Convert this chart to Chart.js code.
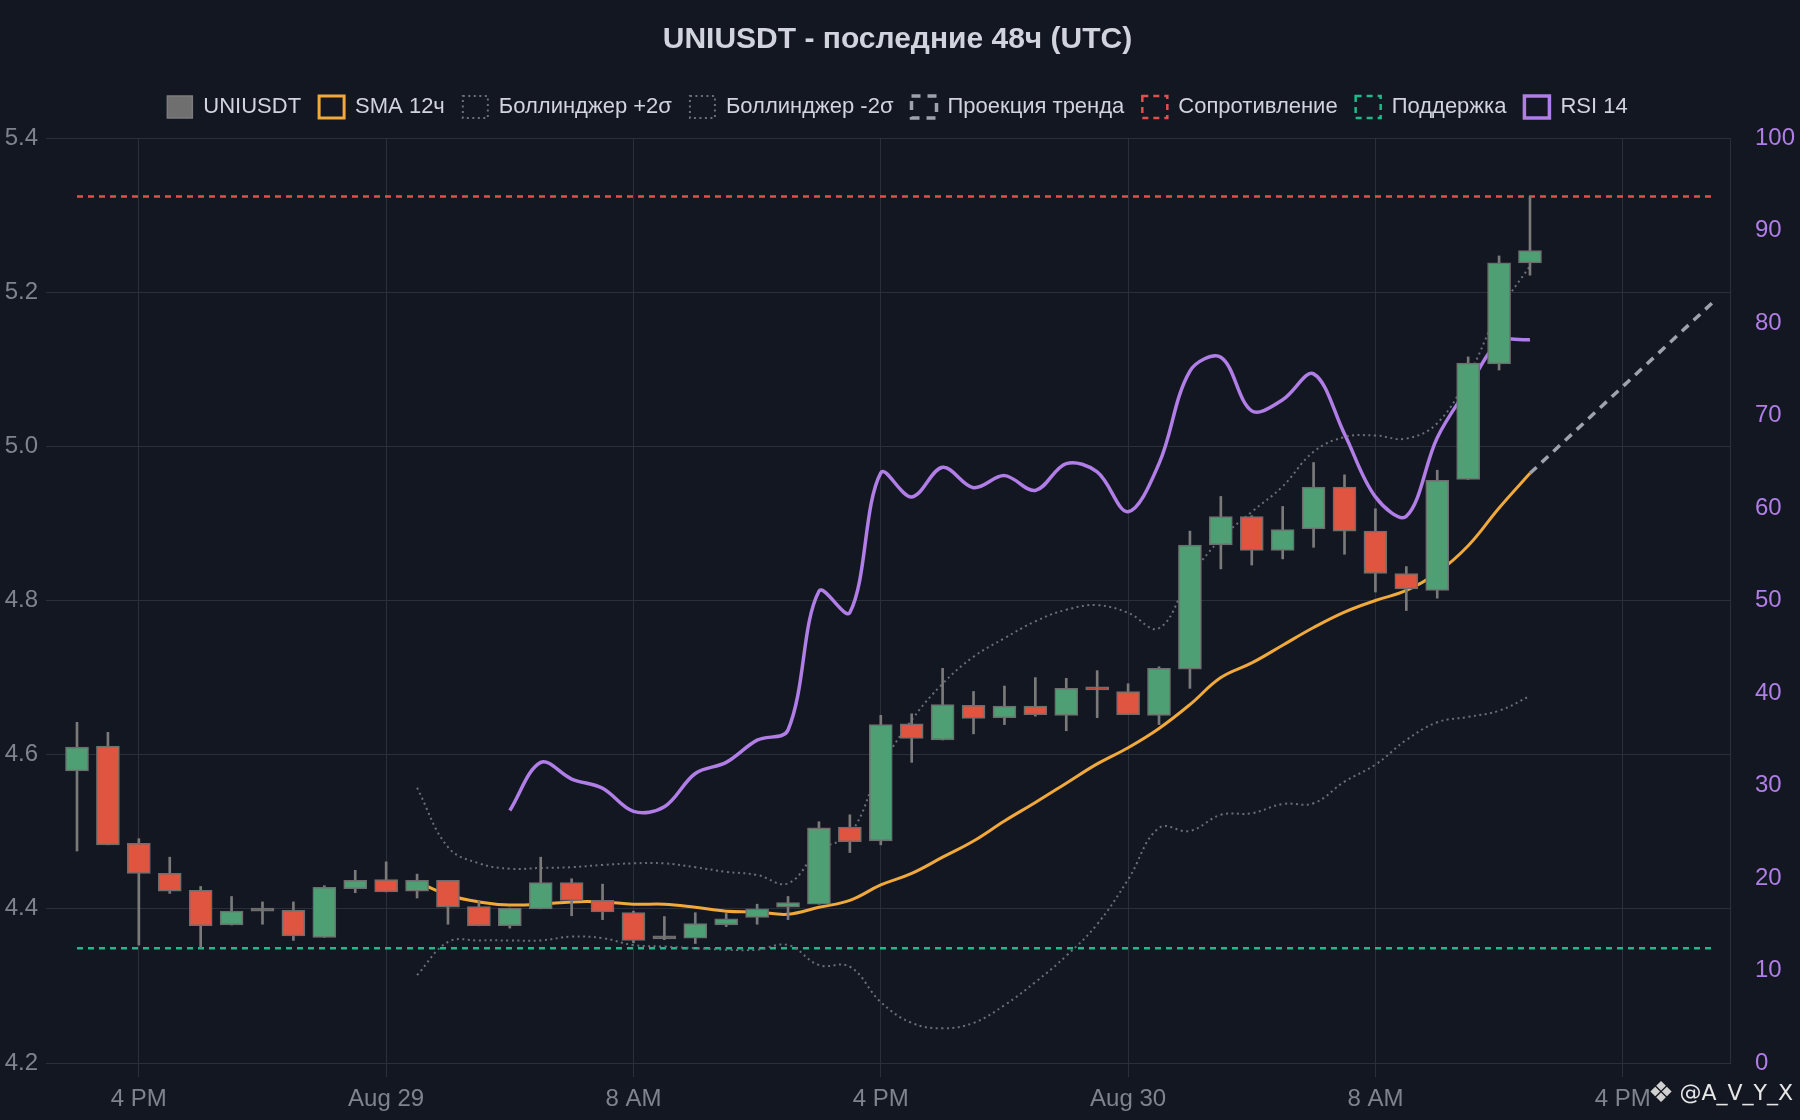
<!DOCTYPE html>
<html>
<head>
<meta charset="utf-8">
<title>UNIUSDT 48h</title>
<script src="https://cdn.jsdelivr.net/npm/chart.js@4.4.1/dist/chart.umd.min.js"></script>
<style>
  html, body { margin: 0; padding: 0; background: #131722; }
  #wrap { width: 1800px; height: 1120px; position: relative; }
</style>
</head>
<body>
<div id="wrap"><canvas id="chart"></canvas></div>
<script>
// hourly candles, x = hours since 28 Aug 00:00 UTC
const candleHours = [14, 15, 16, 17, 18, 19, 20, 21, 22, 23, 24, 25, 26, 27, 28, 29, 30, 31, 32, 33, 34, 35, 36, 37,
                     38, 39, 40, 41, 42, 43, 44, 45, 46, 47, 48, 49, 50, 51, 52, 53, 54, 55, 56, 57, 58, 59, 60, 61];

const openPrices = [4.579, 4.611, 4.485, 4.446, 4.424, 4.379, 4.397, 4.398, 4.363, 4.426, 4.438, 4.423,
                    4.437, 4.403, 4.378, 4.400, 4.434, 4.411, 4.395, 4.361, 4.362, 4.379, 4.389, 4.402,
                    4.406, 4.506, 4.488, 4.640, 4.619, 4.664, 4.648, 4.663, 4.651, 4.687, 4.682, 4.651,
                    4.711, 4.872, 4.909, 4.865, 4.893, 4.947, 4.890, 4.835, 4.813, 4.957, 5.107, 5.238];
const highPrices = [4.642, 4.629, 4.491, 4.467, 4.429, 4.416, 4.409, 4.409, 4.430, 4.450, 4.461, 4.445,
                    4.437, 4.411, 4.401, 4.467, 4.439, 4.432, 4.397, 4.390, 4.395, 4.394, 4.406, 4.416,
                    4.513, 4.522, 4.651, 4.653, 4.712, 4.682, 4.689, 4.700, 4.699, 4.709, 4.692, 4.714,
                    4.890, 4.935, 4.910, 4.922, 4.979, 4.963, 4.919, 4.844, 4.969, 5.116, 5.247, 5.324];
const lowPrices = [4.475, 4.483, 4.353, 4.420, 4.349, 4.379, 4.380, 4.359, 4.363, 4.421, 4.422, 4.414,
                   4.380, 4.378, 4.375, 4.400, 4.391, 4.386, 4.356, 4.360, 4.355, 4.377, 4.380, 4.386,
                   4.406, 4.473, 4.483, 4.590, 4.619, 4.627, 4.639, 4.650, 4.631, 4.648, 4.652, 4.639,
                   4.686, 4.841, 4.846, 4.854, 4.869, 4.860, 4.811, 4.787, 4.803, 4.957, 5.099, 5.222];
const closePrices = [4.610, 4.483, 4.446, 4.423, 4.378, 4.397, 4.397, 4.365, 4.428, 4.437, 4.422, 4.437,
                     4.402, 4.378, 4.401, 4.434, 4.411, 4.396, 4.359, 4.361, 4.381, 4.387, 4.400, 4.408,
                     4.505, 4.487, 4.639, 4.621, 4.665, 4.647, 4.663, 4.652, 4.686, 4.684, 4.652, 4.712,
                     4.872, 4.909, 4.865, 4.892, 4.947, 4.890, 4.835, 4.815, 4.956, 5.108, 5.238, 5.254];

const sma12 = [null, null, null, null, null, null, null, null, null, null, null, 4.435,
               4.418, 4.409, 4.405, 4.406, 4.409, 4.409, 4.406, 4.406, 4.402, 4.397, 4.396, 4.393,
               4.402, 4.411, 4.431, 4.446, 4.467, 4.488, 4.514, 4.538, 4.563, 4.588, 4.609, 4.634,
               4.665, 4.700, 4.719, 4.742, 4.765, 4.785, 4.800, 4.813, 4.836, 4.871, 4.920, 4.965];
const bollUpper = [null, null, null, null, null, null, null, null, null, null, null, 4.557,
                   4.480, 4.459, 4.452, 4.453, 4.454, 4.457, 4.459, 4.459, 4.454, 4.448, 4.444, 4.433,
                   4.476, 4.497, 4.583, 4.645, 4.692, 4.727, 4.751, 4.773, 4.788, 4.794, 4.784, 4.764,
                   4.830, 4.880, 4.915, 4.948, 4.993, 5.012, 5.014, 5.010, 5.030, 5.091, 5.175, 5.234];
const bollLower = [null, null, null, null, null, null, null, null, null, null, null, 4.314,
                   4.357, 4.359, 4.359, 4.359, 4.364, 4.362, 4.353, 4.351, 4.349, 4.347, 4.347, 4.353,
                   4.327, 4.325, 4.279, 4.252, 4.245, 4.252, 4.275, 4.305, 4.339, 4.380, 4.438, 4.505,
                   4.501, 4.522, 4.524, 4.536, 4.537, 4.565, 4.587, 4.619, 4.642, 4.649, 4.657, 4.676];
const rsi14 = [null, null, null, null, null, null, null, null, null, null, null, null,
               null, null, 27.3, 32.5, 30.7, 29.7, 27.2, 27.7, 31.3, 32.5, 34.9, 36.0,
               51.0, 48.7, 63.8, 61.2, 64.4, 62.2, 63.5, 61.9, 64.8, 63.9, 59.6, 64.8,
               74.8, 76.3, 70.5, 71.7, 74.5, 68.0, 61.2, 59.1, 67.6, 73.0, 77.9, 78.2];

const trendHours = [61, 67];
const trendValues = [4.965, 5.190];
const levelHours = [14, 67];
const resistanceLevel = 5.324;
const supportLevel = 4.349;

const tickHours = [16, 24, 32, 40, 48, 56, 64];
const tickLabels = ['4 PM', 'Aug 29', '8 AM', '4 PM', 'Aug 30', '8 AM', '4 PM'];

const GREEN = '#4f9f74';
const RED = '#e0553f';
const GRID = '#2b2f3a';
const TICK = '#7f838d';
const PURPLE = '#b07ee6';
const DOJI = '#787878';

Chart.defaults.font.family = "'Liberation Sans', Arial, sans-serif";
Chart.defaults.color = TICK;

function candleColor(i) {
    if (openPrices[i] === closePrices[i]) return DOJI;
    return closePrices[i] > openPrices[i] ? GREEN : RED;
}

function series(values) {
    return candleHours.map((h, i) => ({ x: h, y: values[i] }));
}

// a bit more room between legend and plot
const legendGap = {
    id: 'legendGap',
    beforeInit(chart) {
        const fit = chart.legend.fit;
        chart.legend.fit = function () {
            fit.call(this);
            this.height += 10;
        };
    }
};

const watermark = {
    id: 'watermark',
    afterDraw(chart) {
        const ctx = chart.ctx;
        ctx.save();
        ctx.fillStyle = '#e6e6e6';
        ctx.textBaseline = 'middle';
        ctx.textAlign = 'right';
        ctx.font = "22px 'DejaVu Sans', sans-serif";
        ctx.fillText('@A_V_Y_X', 1793, 1094);
        ctx.fillStyle = '#d0d0d0';
        ctx.font = "29px 'DejaVu Sans', sans-serif";
        ctx.fillText('❖', 1674, 1094);
        ctx.restore();
    }
};

new Chart(document.getElementById('chart'), {
    type: 'bar',
    data: {
        datasets: [
            {
                type: 'bar',
                label: 'UNIUSDT',
                order: 0,
                grouped: false,
                data: candleHours.map((h, i) => ({ x: h, y: [openPrices[i], closePrices[i]] })),
                backgroundColor: ctx => candleColor(ctx.dataIndex),
                borderColor: '#6e6e6e',
                borderWidth: 1.5,
                borderSkipped: false,
                barThickness: 23,
                minBarLength: 3
            },
            {
                type: 'bar',
                label: 'wick',
                order: 1,
                grouped: false,
                data: candleHours.map((h, i) => ({ x: h, y: [lowPrices[i], highPrices[i]] })),
                backgroundColor: '#7a7a7a',
                borderWidth: 0,
                barThickness: 2
            },
            {
                type: 'line',
                label: 'SMA 12ч',
                order: 2,
                data: series(sma12),
                borderColor: '#f2a93b',
                backgroundColor: 'transparent',
                borderWidth: 3,
                pointRadius: 0,
                tension: 0.4
            },
            {
                type: 'line',
                label: 'Боллинджер +2σ',
                order: 3,
                data: series(bollUpper),
                borderColor: '#6a6f7a',
                backgroundColor: 'transparent',
                borderWidth: 2,
                borderDash: [2, 3.5],
                pointRadius: 0,
                tension: 0.4
            },
            {
                type: 'line',
                label: 'Боллинджер -2σ',
                order: 4,
                data: series(bollLower),
                borderColor: '#6a6f7a',
                backgroundColor: 'transparent',
                borderWidth: 2,
                borderDash: [2, 3.5],
                pointRadius: 0,
                tension: 0.4
            },
            {
                type: 'line',
                label: 'Проекция тренда',
                order: 5,
                data: trendHours.map((h, i) => ({ x: h, y: trendValues[i] })),
                borderColor: '#9ea2aa',
                backgroundColor: 'transparent',
                borderWidth: 3.5,
                borderDash: [9, 7],
                pointRadius: 0
            },
            {
                type: 'line',
                label: 'Сопротивление',
                order: 6,
                data: levelHours.map(h => ({ x: h, y: resistanceLevel })),
                borderColor: '#e2504c',
                backgroundColor: 'transparent',
                borderWidth: 2.5,
                borderDash: [6, 5],
                pointRadius: 0
            },
            {
                type: 'line',
                label: 'Поддержка',
                order: 7,
                data: levelHours.map(h => ({ x: h, y: supportLevel })),
                borderColor: '#22b98a',
                backgroundColor: 'transparent',
                borderWidth: 2.5,
                borderDash: [6, 5],
                pointRadius: 0
            },
            {
                type: 'line',
                label: 'RSI 14',
                order: 8,
                yAxisID: 'y1',
                data: series(rsi14),
                borderColor: PURPLE,
                backgroundColor: 'transparent',
                borderWidth: 3.5,
                pointRadius: 0,
                tension: 0.35
            }
        ]
    },
    options: {
        responsive: true,
        maintainAspectRatio: false,
        devicePixelRatio: 1,
        animation: false,
        layout: { padding: { left: 0, right: 5, top: 0, bottom: 0 } },
        plugins: {
            title: {
                display: true,
                text: 'UNIUSDT - последние 48ч (UTC)',
                color: '#d1d4dc',
                font: { size: 30, weight: 'bold' },
                padding: { top: 22, bottom: 20 }
            },
            legend: {
                labels: {
                    color: '#d1d4dc',
                    font: { size: 22 },
                    boxWidth: 25,
                    boxHeight: 22,
                    padding: 18,
                    generateLabels: chart => {
                        const items = Chart.defaults.plugins.legend.labels.generateLabels(chart);
                        return items.filter(it => it.text !== 'wick').map(it => {
                            if (it.text === 'UNIUSDT') {
                                it.fillStyle = '#6f6f6f';
                                it.strokeStyle = '#7c7c7c';
                            }
                            return it;
                        });
                    }
                }
            },
            tooltip: { enabled: false }
        },
        scales: {
            x: {
                type: 'linear',
                min: 13.45,
                max: 67.47,
                offset: false,
                grid: { color: GRID, offset: false, tickLength: 14 },
                border: { color: GRID },
                afterBuildTicks: axis => { axis.ticks = tickHours.map(v => ({ value: v })); },
                afterFit: axis => { axis.height = 57; },
                ticks: {
                    color: TICK,
                    font: { size: 24 },
                    padding: 8,
                    maxRotation: 0,
                    autoSkip: false,
                    callback: (v, i) => tickLabels[i]
                }
            },
            y: {
                position: 'left',
                min: 4.2,
                max: 5.4,
                grid: { color: GRID, tickLength: 14 },
                border: { display: false },
                afterFit: axis => { axis.width = 60; },
                ticks: {
                    color: TICK,
                    font: { size: 24 },
                    stepSize: 0.2,
                    padding: 8,
                    callback: v => Number(v).toFixed(1)
                }
            },
            y1: {
                position: 'right',
                min: 0,
                max: 100,
                grid: { drawOnChartArea: false, drawTicks: false },
                border: { color: GRID },
                afterFit: axis => { axis.width = 65; },
                ticks: {
                    color: PURPLE,
                    font: { size: 24 },
                    stepSize: 10,
                    padding: 25
                }
            }
        }
    },
    plugins: [legendGap, watermark]
});
</script>
</body>
</html>
